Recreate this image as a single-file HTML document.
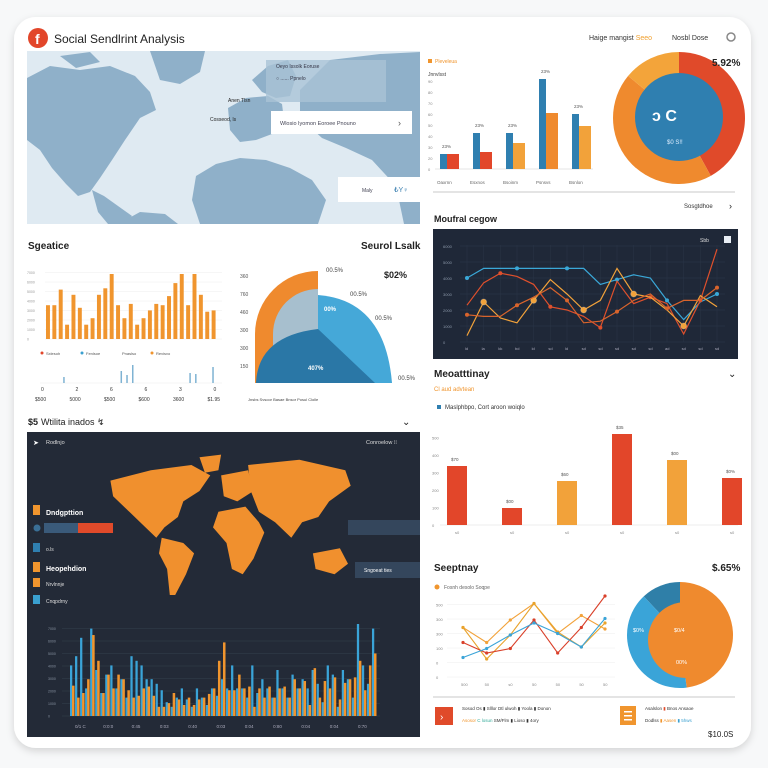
<!DOCTYPE html>
<html><head><meta charset="utf-8">
<style>
html,body{margin:0;padding:0;background:#f7f8f9;}
svg{display:block;font-family:"Liberation Sans",sans-serif;}
</style></head>
<body>
<svg id="s" width="768" height="768" viewBox="0 0 768 768" xmlns="http://www.w3.org/2000/svg">
<defs>
<filter id="sh" x="-5%" y="-5%" width="110%" height="112%"><feDropShadow dx="0" dy="3" stdDeviation="4" flood-color="#000" flood-opacity="0.15"/></filter>
<clipPath id="topMapClip"><rect x="27" y="51" width="393" height="173"/></clipPath>
</defs>
<rect x="14" y="17" width="737" height="731" rx="22" fill="#fff" filter="url(#sh)"/>
<!-- header -->
<circle cx="38" cy="38" r="10" fill="#e2462a"/>
<text x="35" y="44" font-size="14" font-weight="bold" fill="#fff">f</text>
<text x="54" y="43" font-size="12" fill="#222">Social Sendlrint Analysis</text>
<text x="589" y="40" font-size="7" fill="#333">Haige mangist <tspan fill="#f0a030">Seeo</tspan></text>
<text x="672" y="40" font-size="7" fill="#333">Nosbl Dose</text>
<circle cx="731" cy="37" r="4" fill="none" stroke="#888" stroke-width="1.5"/>

<!-- top map -->
<g>
<rect x="27" y="51" width="393" height="173" fill="#dfeaf2"/>
<g id="topMap" clip-path="url(#topMapClip)"></g>
<rect x="266" y="60" width="120" height="42" fill="#a9c3d6" opacity="0.8"/>
<text x="276" y="68" font-size="5" fill="#334">Oeyo Issolk Eoruse</text>
<text x="276" y="80" font-size="5" fill="#334">○ ...... Ppnelo</text>
<rect x="271" y="111" width="141" height="23" fill="#fff"/>
<text x="280" y="125" font-size="5.5" fill="#445">Wlosio Iyomon Eoroee      Pnouno</text>
<text x="398" y="126" font-size="9" fill="#555">›</text>
<rect x="338" y="177" width="82" height="25" fill="#fff"/>
<text x="362" y="192" font-size="5" fill="#445">Maly</text>
<text x="394" y="192" font-size="7" fill="#3a7fb0">₺Y♀</text>
<text x="228" y="102" font-size="5" fill="#222">Anen Tlsn</text>
<text x="210" y="121" font-size="5" fill="#222">Cosseod, ls</text>
</g>

<!-- top right grouped bars -->
<g>
<rect x="428" y="59" width="4" height="4" fill="#f0952e"/>
<text x="435" y="63" font-size="5" fill="#f0952e">Pleveleua</text>
<text x="428" y="76" font-size="5" fill="#444">Jnnvlsst</text>
<line x1="435" y1="169" x2="593" y2="169" stroke="#ccc" stroke-width="0.6"/>
<g id="gbars"></g>
</g>
<!-- donut top -->
<g id="donut1"></g>
<text x="712" y="66" font-size="10" font-weight="bold" fill="#222">5.92%</text>
<line x1="433" y1="192" x2="735" y2="192" stroke="#e4e4e4" stroke-width="2"/>
<text x="684" y="208" font-size="6" fill="#333">Sosgtdhoe</text>
<text x="729" y="209" font-size="9" fill="#222">›</text>
<text x="434" y="222" font-size="9" font-weight="bold" fill="#222">Moufral cegow</text>
<!-- dark line chart -->
<g>
<rect x="433" y="229" width="305" height="130" fill="#1f2838"/>
<g id="dlines"></g>
<text x="700" y="242" font-size="5" fill="#ddd">Sbb</text>
<rect x="724" y="236" width="7" height="7" fill="#e8eef4"/>
</g>
<text x="434" y="377" font-size="10" font-weight="bold" fill="#222">Meoatttinay</text>
<text x="728" y="377" font-size="10" fill="#222">⌄</text>
<text x="434" y="391" font-size="6" fill="#f0952e">Cl aud advtean</text>
<rect x="437" y="405" width="4" height="4" fill="#2f7fb0"/>
<text x="445" y="409" font-size="6" fill="#333">Maslphbpo, Cort aroon  woiqlo</text>

<!-- middle left -->
<text x="28" y="249" font-size="10" font-weight="bold" fill="#222">Sgeatice</text>
<text x="361" y="249" font-size="10" font-weight="bold" fill="#222">Seurol Lsalk</text>
<g>
<g id="obars"></g>
<circle cx="42" cy="353" r="1.5" fill="#e2462a"/><text x="46" y="355" font-size="4" fill="#555">Sxlesoh</text>
<circle cx="82" cy="353" r="1.5" fill="#3aa0d0"/><text x="86" y="355" font-size="4" fill="#555">Fenlsoe</text>
<text x="122" y="355" font-size="4" fill="#555">Pnaslso</text>
<circle cx="152" cy="353" r="1.5" fill="#f0952e"/><text x="156" y="355" font-size="4" fill="#555">Revisvo</text>
<g id="sbars"></g>
</g>
<!-- middle pie -->
<g>
<text x="240" y="278" font-size="5" fill="#555">360</text>
<text x="240" y="296" font-size="5" fill="#555">760</text>
<text x="240" y="314" font-size="5" fill="#555">460</text>
<text x="240" y="332" font-size="5" fill="#555">300</text>
<text x="240" y="350" font-size="5" fill="#555">300</text>
<text x="240" y="368" font-size="5" fill="#555">150</text>
<g id="pie2"></g>
<text x="326" y="272" font-size="6" fill="#444">00.5%</text>
<text x="384" y="278" font-size="9" font-weight="bold" fill="#222">$02%</text>
<text x="350" y="296" font-size="6" fill="#444">00.5%</text>
<text x="375" y="320" font-size="6" fill="#444">00.5%</text>
<text x="398" y="380" font-size="6" fill="#444">00.5%</text>
<text x="324" y="311" font-size="6" font-weight="bold" fill="#fff">00%</text>
<text x="308" y="370" font-size="6" font-weight="bold" fill="#fff">407%</text>
<text x="248" y="401" font-size="4" fill="#444">Jnsbs     Svsoor     Basae     Bnsor     Posul     Clolle</text>
</g>

<!-- bottom left dark panel -->
<text x="28" y="425" font-size="9" font-weight="bold" fill="#222">$5</text>
<text x="41" y="425" font-size="9" fill="#222">Wtilita inados ↯</text>
<text x="402" y="425" font-size="10" fill="#222">⌄</text>
<g>
<rect x="27" y="432" width="393" height="305" fill="#232a37"/>
<text x="33" y="445" font-size="7" fill="#fff">➤</text>
<text x="46" y="444" font-size="5.5" fill="#ddd">Rodlnjo</text>
<text x="366" y="444" font-size="5.5" fill="#ddd">Conroelow ⁞⁞</text>
<g id="darkMap"></g>
<rect x="33" y="505" width="7" height="10" fill="#f0952e"/><text x="46" y="515" font-size="7" font-weight="bold" fill="#fff">Dndgpttion</text>
<circle cx="37" cy="528" r="3.5" fill="#3a6f96"/>
<rect x="44" y="523" width="34" height="10" fill="#3a5a7a"/><rect x="78" y="523" width="35" height="10" fill="#e04a2a"/>
<rect x="33" y="543" width="7" height="9" fill="#2f7fb0"/><text x="46" y="551" font-size="5" fill="#ddd">o.ls</text>
<rect x="33" y="562" width="7" height="10" fill="#f0952e"/><text x="46" y="571" font-size="7" font-weight="bold" fill="#fff">Heopehdion</text>
<rect x="33" y="578" width="7" height="9" fill="#f0952e"/><text x="46" y="586" font-size="5" fill="#ddd">Nrvlnnje</text>
<rect x="33" y="595" width="7" height="9" fill="#3aa0d0"/><text x="46" y="603" font-size="5" fill="#ddd">Cnqpdrny</text>
<rect x="348" y="520" width="72" height="15" fill="#34465c"/>
<rect x="355" y="562" width="65" height="16" fill="#34465c"/><text x="364" y="572" font-size="5" fill="#fff">Sngoeat ties</text>
<g id="dbars"></g>
</g>

<!-- bottom right bar chart -->
<g><g id="rbars"></g></g>
<text x="434" y="571" font-size="10" font-weight="bold" fill="#222">Seeptnay</text>
<text x="712" y="571" font-size="10" font-weight="bold" fill="#222">$.65%</text>
<circle cx="437" cy="587" r="2.5" fill="#f0952e"/><text x="444" y="589" font-size="5" fill="#666">Fosnh desolo Soqpe</text>
<g><g id="llines"></g></g>
<g id="pie3"></g>
<line x1="433" y1="697" x2="735" y2="697" stroke="#e4e4e4" stroke-width="2"/>
<g>
<rect x="435" y="707" width="18" height="18" fill="#e04a2a"/>
<text x="440" y="720" font-size="10" fill="#fff">›</text>
<text x="462" y="710" font-size="4.5" fill="#333">Sosod Os   ▮ Slllor   Dtl ulwoh   ▮ Yoola   ▮ Donon</text>
<text x="462" y="722" font-size="4.5" fill="#f0952e">Asosor      <tspan fill="#3a9">C losun</tspan>   <tspan fill="#333">SM/Flm   ▮ Lioso   ▮ 4ory</tspan></text>
<rect x="620" y="706" width="16" height="19" fill="#f0952e"/>
<rect x="624" y="711" width="8" height="1.5" fill="#fff"/><rect x="624" y="715" width="8" height="1.5" fill="#fff"/><rect x="624" y="719" width="8" height="1.5" fill="#fff"/>
<text x="645" y="710" font-size="4.5" fill="#333">Asalslon  <tspan fill="#e04a2a">▮</tspan> Bnos   Ansaoe</text>
<text x="645" y="722" font-size="4.5" fill="#333">Dodlss   <tspan fill="#f0952e">▮ Aasen</tspan>  <tspan fill="#3aa0d0">▮ 5hws</tspan></text>
<text x="708" y="737" font-size="8" fill="#222">$10.0S</text>
</g>
</svg>
<script>
const NS="http://www.w3.org/2000/svg";
function mk(p,t,a){const e=document.createElementNS(NS,t);for(const k in a)e.setAttribute(k,a[k]);p.appendChild(e);return e;}
function gid(i){return document.getElementById(i);}

// ---- data ----
const worldNames=["north-america","greenland","south-america","europe","africa","asia","australia"];
const worldShapes=[
"5,12 20,8 35,6 42,10 38,16 32,20 30,26 25,30 22,34 18,30 12,24 6,18",
"38,3 46,2 45,8 40,9",
"24,34 32,36 36,40 33,48 29,56 27,56 26,46 23,40",
"46,10 56,8 58,16 52,20 47,18",
"45,24 55,22 60,28 62,32 58,42 54,48 50,46 48,36 43,30",
"56,6 75,4 92,8 94,14 86,20 82,26 76,28 72,34 66,28 60,24 57,16",
"80,40 90,38 93,44 88,48 81,46"];
const topMapNames=["north-america","greenland","central-america","south-america","europe","scandinavia","africa","asia","arctic-islands"];
const topMapShapes=[
"27,78 50,66 80,70 110,66 135,76 150,92 156,110 140,118 125,140 112,160 100,178 90,192 78,196 66,184 52,168 40,150 27,140",
"150,51 205,51 200,72 180,84 160,80",
"92,190 104,196 118,206 132,216 124,224 108,224 98,212",
"118,224 140,212 165,214 178,224",
"228,108 246,98 268,96 282,104 284,120 272,134 256,140 240,142 230,130",
"252,80 268,66 288,60 296,76 290,96 276,98 262,92",
"196,176 216,164 240,158 266,160 290,168 312,180 326,200 318,224 200,224 192,200",
"300,90 330,60 380,54 420,52 420,224 404,224 396,186 372,160 346,148 322,138 300,118",
"60,56 90,52 100,62 76,68"];

const groupCats=["Oaxrnn","Esxnos","Bsoinm","Psnsvs","Bsnlon"];
const groupBlue=[15,36,36,90,55];
const groupOther=[15,17,26,56,43];
const groupOtherColors=["#e2462a","#e2462a","#f2a23a","#ef8a2e","#f2a23a"];
const groupYTicks=["0","20","30","40","50","60","70","80","90"];

const donut1Vals=[42,44,14];
const donut1Colors=["#e04a2a","#ef8a2e","#f3a43a"];

const dlineX=["ld","la","kk","bd","ld","sd","ld","sd","sd","sd","sd","sd","ad","sd","sd","sd"];
const dlineBlue=[4.0,4.6,4.6,4.6,4.6,4.6,4.6,4.6,3.6,3.9,4.2,4.0,2.6,1.4,2.5,3.0];
const dlineRed=[2.3,3.7,4.3,4.1,3.6,2.2,2.0,1.6,0.9,3.8,2.4,2.8,2.4,0.5,2.6,5.8];
const dlineOrange=[0.4,2.5,1.5,1.2,2.6,3.9,3.0,2.0,2.6,4.6,3.0,2.8,2.0,1.0,2.9,2.2];
const dlineRed2=[1.7,1.6,1.6,2.3,2.8,3.4,2.6,1.2,1.3,1.9,2.6,3.0,2.1,2.6,2.6,3.4];
const dlineYTicks=["0","1000","2000","3000","4000","5000","6000"];

const obarVals=[26,26,38,11,34,24,11,16,34,39,50,26,16,27,11,16,22,27,26,33,43,50,26,50,34,21,22];
const obarYTicks=["0","1000","2000","3000","4000","5000","6000","7000"];
const sbarVals=[0,0,0,6,0,0,0,0,0,0,0,0,0,12,8,18,0,0,0,0,0,0,0,0,0,10,9,0,0,16];
const sbarXTicks=["0","2","6","6","3","0"];
const sbarXVals=["$500","5000","$500","$600","3600","$1.95"];

const darkBlue=[55,65,85,30,95,50,25,45,55,30,40,20,65,60,55,40,40,35,28,15,10,20,30,18,10,30,20,12,30,22,40,30,55,30,30,20,55,25,40,30,20,50,30,20,45,30,40,30,50,35,15,55,45,10,50,40,20,100,55,35,95];
const darkOrange=[33,20,25,40,88,60,25,45,30,45,40,28,20,22,30,32,22,10,10,14,25,18,12,20,12,18,20,24,30,60,80,28,28,45,30,32,10,30,20,32,20,30,32,20,40,30,38,12,52,20,38,30,42,18,36,40,42,60,28,55,68];
const darkXTicks=["0/1 C","0:0:0","0:45","0:03","0:40","0:03","0:04","0:80","0:04","0:04","0:70"];

const rbarVals=[59,17,44,91,65,47];
const rbarLabels=["$70","$00","$60","$35","$00","$0%"];
const rbarColors=["#e2462a","#e2462a","#f2a23a","#e2462a","#f2a23a","#e2462a"];
const rbarYTicks=["0","100","200","300","400","500"];

const lineX=["500","50","s0","50","50","50","50"];
const lineOrange=[3.3,2.3,3.8,4.9,2.9,4.1,3.2];
const lineGold=[3.3,1.2,2.8,4.9,3.0,2.0,3.6];
const lineRed=[2.3,1.6,1.9,3.8,1.6,3.3,5.4];
const lineBlue=[1.3,1.9,2.8,3.6,2.9,2.0,3.9];
const lineYTicks=["0","0","100","300","300","500"];

const pie3Vals=[12,48,40];
const pie3Colors=["#2f7fa8","#ef8a2e","#3aa4d8"];

// ---- maps ----
function drawMap(g,sx,sy,ox,oy,nx0,ny0,fill,name){
  worldShapes.forEach((pts,i)=>{
    const p=pts.split(" ").map(s=>{const [a,b]=s.split(",").map(Number);return (ox+(a-nx0)*sx).toFixed(1)+","+(oy+(b-ny0)*sy).toFixed(1);}).join(" ");
    const e=mk(g,"polygon",{points:p,fill:fill,"stroke-linejoin":"round"});
    
    
  });
}
topMapShapes.forEach((pts,i)=>{
  const e=mk(gid("topMap"),"polygon",{points:pts,fill:"#8fb0c9"});
  
  
});
drawMap(gid("darkMap"),2.7,2.6,105,452,3,1,"#f0902e","dark-map");

// ---- grouped bars ----
(function(){
 const g=gid("gbars"),base=169,sc=1.0,x0=440,step=33;
 groupYTicks.forEach((t,i)=>{const e=mk(g,"text",{x:428,y:base-i*11+2,"font-size":4,fill:"#888"});e.textContent=t;});
 groupCats.forEach((c,i)=>{
  const x=x0+i*step;
  const b=mk(g,"rect",{x:x,y:base-groupBlue[i]*sc,width:7,height:groupBlue[i]*sc,fill:"#2f7fb0"});
  
  
  const o=mk(g,"rect",{x:x+7,y:base-groupOther[i]*sc,width:12,height:groupOther[i]*sc,fill:groupOtherColors[i]});
  
  
  const l=mk(g,"text",{x:x-3,y:184,"font-size":4.5,fill:"#666"});l.textContent=c;
  const v=mk(g,"text",{x:x+2,y:base-groupBlue[i]*sc-6,"font-size":4.5,fill:"#555"});v.textContent="23%";
 });
})();

// ---- donut / pies ----
function arcPath(cx,cy,r,a0,a1,ri){
 const p=(a,rr)=>[cx+rr*Math.sin(a),cy-rr*Math.cos(a)];
 const large=(a1-a0)>Math.PI?1:0;
 const [x0,y0]=p(a0,r),[x1,y1]=p(a1,r);
 return `M${cx},${cy}L${x0},${y0}A${r},${r} 0 ${large} 1 ${x1},${y1}Z`;
}
(function(){
 const g=gid("donut1"),tot=donut1Vals.reduce((a,b)=>a+b,0);let a=0;
 donut1Vals.forEach((v,i)=>{const a1=a+v/tot*2*Math.PI;
  const e=mk(g,"path",{d:arcPath(679,118,66,a,a1),fill:donut1Colors[i]});
  
  a=a1;});
 mk(g,"circle",{cx:679,cy:117,r:44,fill:"#2f7fb0"});
 const t=mk(g,"text",{x:652,y:121,"font-size":16,fill:"#fff","font-weight":"bold"});t.textContent="ↄ   C";
 const t2=mk(g,"text",{x:667,y:144,"font-size":6,fill:"#dfefff"});t2.textContent="$0 S!!";
})();
(function(){
 const g=gid("pie2");
 mk(g,"path",{d:arcPath(318,334,63,-Math.PI/2,0),fill:"#ef8a2e"});
 mk(g,"path",{d:"M255,334 L255,383 L318,383 L318,334Z",fill:"#ef8a2e"});
 mk(g,"path",{d:arcPath(318,334,45,-Math.PI/2,0),fill:"#a7bfce"});
 mk(g,"path",{d:"M273,334 L273,383 L318,383 L318,334Z",fill:"#a7bfce"});
 const lb=mk(g,"path",{d:"M318,383 L318,295 Q385,300 392,383Z",fill:"#45a8d8"});
 
 
 const db=mk(g,"path",{d:"M256,383 Q258,336 318,329 L375,383Z",fill:"#2a77a6"});
 
 
})();
(function(){
 const g=gid("pie3"),tot=pie3Vals.reduce((a,b)=>a+b,0);let a=-pie3Vals[0]/tot*2*Math.PI;
 pie3Vals.forEach((v,i)=>{const a1=a+v/tot*2*Math.PI;
  const e=mk(g,"path",{d:arcPath(680,635,53,a,a1),fill:pie3Colors[i]});
  
  a=a1;});
 mk(g,"circle",{cx:686,cy:640,r:38,fill:"#ef8a2e"});
 [["$0%",633,632],["$0/4",674,632],["00%",676,664]].forEach(([s,x,y])=>{const t=mk(g,"text",{x:x,y:y,"font-size":5.5,fill:"#fff"});t.textContent=s;});
})();

// ---- dark line chart ----
(function(){
 const g=gid("dlines"),x0=467,x1=717,base=342,sc=16;
 const X=i=>x0+i*(x1-x0)/(dlineX.length-1),Y=v=>base-v*sc;
 dlineYTicks.forEach((t,i)=>{mk(g,"line",{x1:460,x2:725,y1:Y(i),y2:Y(i),stroke:"#2e3a4c","stroke-width":0.6});
  const e=mk(g,"text",{x:443,y:Y(i)+2,"font-size":4,fill:"#8a97a8"});e.textContent=t;});
 dlineX.forEach((t,i)=>{mk(g,"line",{x1:X(i),x2:X(i),y1:245,y2:base,stroke:"#2a3547","stroke-width":0.5});
  const e=mk(g,"text",{x:X(i)-2,y:350,"font-size":4,fill:"#aab"});e.textContent=t;});
 const s=[[dlineBlue,"#3aa8d8"],[dlineRed,"#e0502c"],[dlineOrange,"#f2a23a"],[dlineRed2,"#d9642c"]];
 s.forEach(([vals,c],k)=>{
  const pl=mk(g,"polyline",{points:vals.map((v,i)=>X(i)+","+Y(v)).join(" "),fill:"none",stroke:c,"stroke-width":1.2});
  
  
  vals.forEach((v,i)=>{if((i+k)%3===0)mk(g,"circle",{cx:X(i),cy:Y(v),r:k===2?3:2,fill:c,stroke:k===2?"#fff3":"none"});});
 });
})();

// ---- orange bars ----
(function(){
 const g=gid("obars"),x0=46,x1=218,base=339,sc=1.3;
 obarYTicks.forEach((t,i)=>{const y=base-i*9.5;mk(g,"line",{x1:45,x2:222,y1:y,y2:y,stroke:"#eee","stroke-width":0.5});
  const e=mk(g,"text",{x:27,y:y+1.5,"font-size":3.5,fill:"#999"});e.textContent=t;});
 const w=(x1-x0)/obarVals.length;
 obarVals.forEach((v,i)=>{const r=mk(g,"rect",{x:x0+i*w,y:base-v*sc,width:w*0.62,height:v*sc,fill:"#f0952e"});
  
  });
 const s=gid("sbars"),sb=383,sw=(x1-x0)/sbarVals.length;
 mk(s,"line",{x1:40,x2:222,y1:sb,y2:sb,stroke:"#eee","stroke-width":0.6});
 sbarVals.forEach((v,i)=>{if(v>0){const r=mk(s,"rect",{x:x0+i*sw,y:sb-v,width:1.5,height:v,fill:"#7fb3d3"});
  
  }});
 sbarXTicks.forEach((t,i)=>{const x=43+i*34.5;const e=mk(s,"text",{x:x-2,y:391,"font-size":5,fill:"#333"});e.textContent=t;
  const e2=mk(s,"text",{x:x-8,y:401,"font-size":5,fill:"#333"});e2.textContent=sbarXVals[i];});
})();

// ---- dark bars ----
(function(){
 const g=gid("dbars"),x0=70,x1=377,base=716,sc=0.92;
 for(let i=0;i<8;i++){const y=base-i*12.5;mk(g,"line",{x1:62,x2:380,y1:y,y2:y,stroke:"#34404f","stroke-width":0.5});
  const e=mk(g,"text",{x:48,y:y+1.5,"font-size":3.5,fill:"#8893a2"});e.textContent=i?i+"000":"0";}
 const n=darkBlue.length,w=(x1-x0)/n;
 darkBlue.forEach((v,i)=>{const r=mk(g,"rect",{x:x0+i*w,y:base-v*sc,width:w*0.45,height:v*sc,fill:"#3aa4d8"});
  
  });
 darkOrange.forEach((v,i)=>{const r=mk(g,"rect",{x:x0+i*w+w*0.4,y:base-v*sc,width:w*0.5,height:v*sc,fill:"#f0952e"});
  
  });
 darkXTicks.forEach((t,i)=>{const e=mk(g,"text",{x:75+i*28.3,y:728,"font-size":4.5,fill:"#aab"});e.textContent=t;});
})();

// ---- right bars ----
(function(){
 const g=gid("rbars"),base=525,sc=1.0,x0=447,step=55;
 rbarYTicks.forEach((t,i)=>{const e=mk(g,"text",{x:432,y:base-i*17.5+2,"font-size":4,fill:"#888"});e.textContent=t;});
 mk(g,"line",{x1:440,x2:738,y1:base,y2:base,stroke:"#ddd","stroke-width":0.6});
 rbarVals.forEach((v,i)=>{const x=x0+i*step;
  const r=mk(g,"rect",{x:x,y:base-v*sc,width:20,height:v*sc,fill:rbarColors[i]});
  
  
  const l=mk(g,"text",{x:x+4,y:base-v*sc-5,"font-size":4.5,fill:"#555"});l.textContent=rbarLabels[i];
  const t=mk(g,"text",{x:x+8,y:534,"font-size":4,fill:"#888"});t.textContent="s0";});
})();

// ---- small line chart ----
(function(){
 const g=gid("llines"),x0=463,x1=605,base=677,sc=15;
 const X=i=>x0+i*(x1-x0)/(lineX.length-1),Y=v=>base-v*sc;
 lineYTicks.forEach((t,i)=>{const y=base-i*14.5;mk(g,"line",{x1:447,x2:615,y1:y,y2:y,stroke:"#eee","stroke-width":0.5});
  const e=mk(g,"text",{x:436,y:y+2,"font-size":4,fill:"#888"});e.textContent=t;});
 lineX.forEach((t,i)=>{const e=mk(g,"text",{x:X(i)-2,y:686,"font-size":4,fill:"#888"});e.textContent=t;});
 [[lineOrange,"#f2a23a"],[lineGold,"#e8a32c"],[lineRed,"#d9402a"],[lineBlue,"#3aa4d8"]].forEach(([vals,c],k)=>{
  const pl=mk(g,"polyline",{points:vals.map((v,i)=>X(i)+","+Y(v)).join(" "),fill:"none",stroke:c,"stroke-width":1.1});
  
  
  vals.forEach((v,i)=>mk(g,"circle",{cx:X(i),cy:Y(v),r:1.6,fill:c}));
 });
})();
</script>
</body></html>
